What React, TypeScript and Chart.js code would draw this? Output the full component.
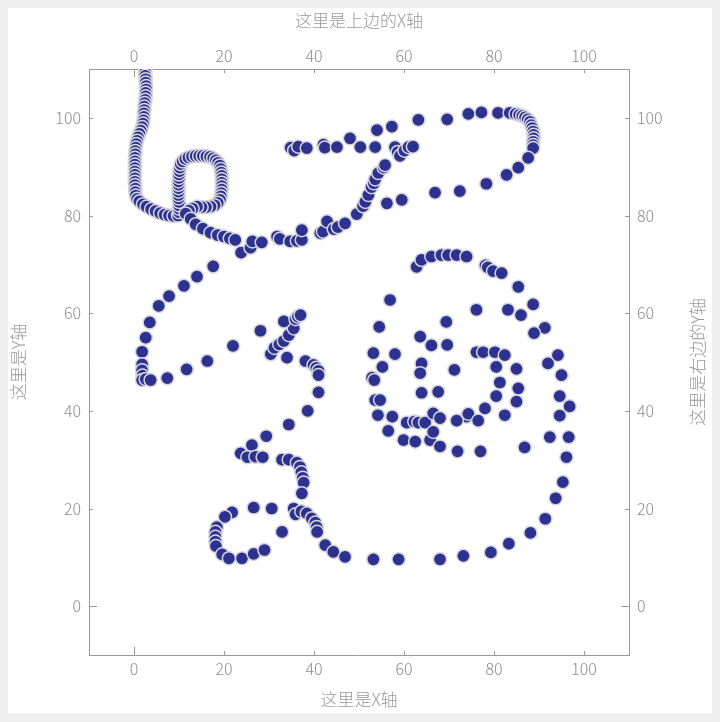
import React, { useEffect, useRef } from "react";
import { Chart, registerables } from "chart.js";

Chart.register(...registerables);

type P = [number, number];

const axisMin = -10;
const axisMax = 110;
const xTicks = [0, 20, 40, 60, 80, 100];
const yTicks = [0, 20, 40, 60, 80, 100];

const topTitle = "这里是上边的X轴";
const bottomTitle = "这里是X轴";
const leftTitle = "这里是Y轴";
const rightTitle = "这里是右边的Y轴";

const strokeVertical: P[] = [
  [2.6, 111.4], [2.6, 110.7], [2.6, 110], [2.5, 109.3], [2.5, 108.6], [2.6, 107.9], [2.6, 107.2], [2.7, 106.5],
  [2.7, 105.8], [2.6, 105.1], [2.6, 104.4], [2.5, 103.7], [2.4, 103], [2.3, 102.3], [2.3, 101.6], [2.2, 100.9],
  [2.2, 100.2], [2.1, 99.5], [2.0, 98.8], [1.8, 98.1], [1.5, 97.4], [1.2, 96.7], [0.9, 96], [0.7, 95.3],
  [0.5, 94.6], [0.4, 93.9], [0.3, 93.2], [0.3, 92.5], [0.2, 91.8], [0.2, 91.1], [0.2, 90.4], [0.2, 89.7],
  [0.2, 89], [0.2, 88.3], [0.2, 87.6], [0.2, 86.9], [0.2, 86.2], [0.3, 85.5], [0.3, 84.8], [0.4, 84.1],
  [0.7, 83.4], [1.2, 82.9], [2, 82.3], [2.8, 81.8], [3.8, 81.3], [4.8, 80.9], [5.8, 80.5], [6.8, 80.2],
  [7.8, 80], [8.8, 79.9], [9.8, 80],
];

const strokeLoop: P[] = [
  [10, 80.7], [10, 81.4], [10, 82.1], [10, 82.8], [9.9, 83.5], [9.9, 84.2], [9.9, 84.9], [9.9, 85.6],
  [9.9, 86.3], [9.9, 87], [10, 87.7], [10, 88.4], [10.1, 89.1], [10.2, 89.8], [10.4, 90.5], [10.8, 91.1],
  [11.4, 91.6], [12.1, 91.9], [12.9, 92.1], [13.7, 92.2], [14.5, 92.2], [15.3, 92.2], [16.1, 92.1], [16.9, 92],
  [17.6, 91.7], [18.2, 91.3], [18.7, 90.8], [19.1, 90.2], [19.3, 89.5], [19.4, 88.8], [19.5, 88.1], [19.5, 87.4],
  [19.5, 86.7], [19.5, 86], [19.5, 85.3], [19.4, 84.6], [19.3, 83.9], [19.1, 83.2], [18.6, 82.6], [17.9, 82.1],
  [17, 81.8], [16, 81.7], [15, 81.7], [14, 81.8], [13, 81.4], [12.2, 81],
];

const strokeDiagonal: P[] = [
  [11.5, 80.4], [12.6, 79.3], [13.7, 78.2], [15.3, 77.3], [17, 76.5], [18.6, 76], [20, 75.7], [21.3, 75.3],
  [22.5, 75], [23.8, 72.4], [25.9, 73.4], [26.3, 74.7], [28.4, 74.5], [31.8, 75.7], [32.4, 75.2], [34.7, 74.7],
  [36.2, 74.8], [37.3, 75], [37.3, 77], [41.4, 76.4], [42, 76.7], [42.9, 78.8], [44.4, 77.2], [45.3, 77.6],
  [46.9, 78.4], [49.5, 80.3], [50.9, 81.9], [51.4, 82.8], [52.1, 84.2], [52.8, 85.8], [53.3, 86.6], [53.6, 87.4],
  [54.3, 88.7], [55.5, 89.8], [55.8, 90.3], [56.2, 82.5], [59.5, 83.2], [66.9, 84.7],
];

const strokeTop: P[] = [
  [34.8, 93.9], [35.6, 93.3], [36.5, 94.1], [38.4, 93.8], [42.1, 94.5], [42.4, 93.9], [45.1, 94], [48, 95.8],
  [50.3, 94], [53.6, 94], [54, 97.5], [57.3, 98.2], [58, 94], [58.6, 93], [59.1, 92.2], [60.1, 93.3],
  [61, 94], [62, 94.1], [63.2, 99.6], [69.6, 99.7], [74.3, 100.8], [77.2, 101.1], [80.9, 101], [83.5, 101],
  [84.8, 100.8], [85.6, 100.6], [86.3, 100.4], [86.9, 100.1], [87.5, 99.7], [88, 99.2], [88.3, 98.5], [88.5, 97.9],
  [88.7, 97.2], [88.8, 96.5], [88.8, 95.8], [88.7, 95.1], [88.7, 94.4], [88.7, 93.8], [87.6, 91.8], [85.4, 89.8],
  [82.8, 88.3], [78.3, 86.5], [72.4, 85],
];

const strokeLeftC: P[] = [
  [17.6, 69.6], [14, 67.5], [11.1, 65.6], [7.8, 63.5], [5.5, 61.5], [3.5, 58.1], [2.6, 55], [1.8, 52.1],
  [1.8, 49.5], [1.8, 48.3], [1.9, 47.2], [1.8, 46.3], [2.6, 46.5], [3.7, 46.3], [7.4, 46.7], [11.7, 48.5],
  [16.3, 50.2], [22, 53.3], [28.1, 56.4],
];

const strokeMiddle: P[] = [
  [30.4, 51.6], [31.2, 52.9], [32.3, 53.6], [33.3, 54.3], [34.4, 55.5], [35.5, 56.9], [33.3, 58.3], [35.9, 58.8],
  [36.4, 59.3], [37, 59.6], [34, 50.9], [38.1, 50.2], [39.9, 49.4], [40.5, 48.8], [41, 48.2], [41, 47.3],
  [41, 43.8], [38.6, 40], [34.4, 37.2], [29.4, 34.8], [26.2, 33], [23.7, 31.3], [25.2, 30.5], [27, 30.6],
  [28.6, 30.5],
];

const strokeSweep: P[] = [
  [32.9, 30], [34.4, 30], [36.2, 29.4], [36.9, 28.5], [37.2, 27.4], [37.5, 26.3], [37.7, 25.3], [37.3, 23.1],
  [35.5, 20], [35.9, 18.8], [37.2, 19.4], [38.4, 19], [39.5, 18], [40.3, 17.1], [40.6, 16.2], [40.7, 15.2],
  [42.5, 12.5], [44.3, 11.1], [46.9, 10.1], [53.2, 9.6], [58.8, 9.6], [68, 9.6], [73.2, 10.3], [79.3, 11],
  [83.3, 12.8], [88.1, 15], [91.4, 17.9], [93.7, 22.1], [95.3, 25.4], [96.1, 30.5],
];

const strokeSmallC: P[] = [
  [32.9, 15.2], [30.6, 20], [26.6, 20.2], [21.8, 19.2], [20.2, 18.3], [18.4, 16.2], [18.1, 15.2], [18.1, 14.2],
  [18.1, 13.2], [18.2, 12.3], [19.6, 10.6], [21.1, 9.8], [24, 9.8], [26.6, 10.7], [29, 11.5],
];

const strokeOuterSpiral: P[] = [
  [62.8, 69.5], [63.9, 70.9], [66.1, 71.6], [68.3, 71.9], [69.8, 71.9], [71.7, 71.9], [73.9, 71.6], [78.1, 69.8],
  [78.6, 69.4], [79.8, 68.6], [81.7, 68.2], [85.4, 65.4], [88.7, 61.8], [91.3, 57], [88.9, 55.9], [94.2, 51.4],
  [92, 49.7], [95, 47.3], [94.6, 43], [96.8, 40.9], [94.6, 39], [92.4, 34.6], [96.6, 34.6],
];

const strokeInnerLeft: P[] = [
  [56.9, 62.7], [54.5, 57.2], [63.6, 55.2], [66.1, 53.4], [69.6, 53.5], [69.4, 58.2], [53.2, 51.8], [58, 51.6],
  [55.2, 49], [63.9, 49.7], [63.6, 47.7], [52.9, 46.8], [53.4, 46.3], [53.6, 42.2], [54.7, 42.2], [63.9, 43.7],
  [67.6, 43.9], [54.2, 39.1], [57.4, 38.8], [60.6, 37.6], [62.3, 37.8], [63.2, 37.6], [64.7, 37.6], [66.5, 39.5],
  [68, 38.5], [56.5, 35.9], [59.9, 34], [62.5, 33.7], [65.8, 34], [66.5, 35.7], [68, 32.7],
];

const strokeInnerRight: P[] = [
  [76.1, 60.7], [83.1, 60.7], [86, 59.6], [71.2, 48.4], [76.1, 52], [77.6, 52], [80.2, 52], [82.4, 51.4],
  [80.5, 49], [85, 48.6], [81.3, 45.8], [85.4, 44.6], [80.5, 43], [85, 41.9], [78, 40.5], [82.4, 39.1],
  [73.9, 38.8], [74.3, 39.4], [71.7, 38], [76.5, 38], [71.9, 31.7], [77, 31.7], [86.8, 32.5],
];

const allStrokes: P[][] = [
  strokeVertical, strokeLoop, strokeDiagonal, strokeTop, strokeLeftC, strokeMiddle,
  strokeSweep, strokeSmallC, strokeOuterSpiral, strokeInnerLeft, strokeInnerRight,
];

const AXIS_COLOR = "#9a9a9a";
const TICK_TEXT = "#8c8c8c";
const TITLE_TEXT = "#999999";
const FONT = "'Noto Sans CJK SC', 'Noto Sans', sans-serif";

const innerTicksPlugin = {
  id: "innerTicks",
  afterDraw(chart: any) {
    const ctx = chart.ctx;
    const a = chart.chartArea;
    const xs = chart.scales.x;
    const ys = chart.scales.y;
    ctx.save();
    ctx.strokeStyle = AXIS_COLOR;
    ctx.lineWidth = 1;
    ctx.beginPath();
    for (const v of xTicks) {
      const px = Math.round(xs.getPixelForValue(v)) + 0.5;
      const len = v === 0 ? 8 : 4;
      ctx.moveTo(px, a.bottom);
      ctx.lineTo(px, a.bottom - len);
      ctx.moveTo(px, a.top);
      ctx.lineTo(px, a.top + len);
    }
    for (const v of yTicks) {
      const py = Math.round(ys.getPixelForValue(v)) + 0.5;
      const len = v === 0 ? 8 : 4;
      ctx.moveTo(a.left, py);
      ctx.lineTo(a.left + len, py);
      ctx.moveTo(a.right, py);
      ctx.lineTo(a.right - len, py);
    }
    ctx.stroke();
    ctx.restore();
  },
};

const rightTitlePlugin = {
  id: "rightTitle",
  afterDraw(chart: any) {
    const ctx = chart.ctx;
    const a = chart.chartArea;
    ctx.save();
    ctx.translate(chart.width - 14, (a.top + a.bottom) / 2);
    ctx.rotate(-Math.PI / 2);
    ctx.textAlign = "center";
    ctx.textBaseline = "middle";
    ctx.font = `300 17px ${FONT}`;
    ctx.fillStyle = TITLE_TEXT;
    ctx.fillText(rightTitle, 0, 0);
    ctx.restore();
  },
};

function App() {
  const canvasRef = useRef<HTMLCanvasElement | null>(null);

  useEffect(() => {
    document.body.style.background = "#f0f0f0";
    const canvas = canvasRef.current;
    if (!canvas) return;

    const points = allStrokes.flat().map(([x, y]) => ({ x, y }));

    const tickFont = { family: FONT, size: 16, weight: 300 as any };
    const titleFont = { family: FONT, size: 17, weight: 300 as any };

    const setTicks = (vals: number[]) => (scale: any) => {
      scale.ticks = vals.map((v) => ({ value: v }));
    };

    const baseScale = (vals: number[], pad: number) => ({
      type: "linear" as const,
      min: axisMin,
      max: axisMax,
      afterBuildTicks: setTicks(vals),
      grid: { display: true, drawOnChartArea: false, drawTicks: false },
      border: { display: true, color: AXIS_COLOR, width: 1 },
      ticks: { color: TICK_TEXT, font: tickFont, padding: pad, autoSkip: false, maxRotation: 0 },
    });

    const chart = new Chart(canvas, {
      type: "scatter",
      data: {
        datasets: [
          {
            data: points,
            backgroundColor: "#2d3190",
            borderColor: "#d6d6dc",
            borderWidth: 1.5,
            pointRadius: 6.6,
            pointHoverRadius: 6.6,
          },
        ],
      },
      options: {
        responsive: false,
        animation: false,
        events: [],
        layout: { padding: 0 },
        plugins: { legend: { display: false }, tooltip: { enabled: false } },
        scales: {
          x: {
            ...baseScale(xTicks, 4),
            position: "bottom",
            afterFit: (s: any) => { s.height = 58; },
            title: { display: true, text: bottomTitle, color: TITLE_TEXT, font: titleFont, padding: { top: 0, bottom: 3 } },
          },
          x2: {
            ...baseScale(xTicks, 3),
            position: "top",
            afterFit: (s: any) => { s.height = 61; },
            title: { display: true, text: topTitle, color: TITLE_TEXT, font: titleFont, padding: { top: 2, bottom: 0 } },
          },
          y: {
            ...baseScale(yTicks, 8),
            position: "left",
            afterFit: (s: any) => { s.width = 81; },
            title: { display: true, text: leftTitle, color: TITLE_TEXT, font: titleFont, padding: { top: 0, bottom: 0 } },
          },
          y2: {
            ...baseScale(yTicks, 8),
            position: "right",
            afterFit: (s: any) => { s.width = 83; },
            title: { display: false },
          },
        },
      } as any,
      plugins: [innerTicksPlugin, rightTitlePlugin],
    });

    return () => chart.destroy();
  }, []);

  return (
    <div style={{ width: 704, height: 705, background: "#ffffff" }}>
      <canvas ref={canvasRef} width={704} height={705} style={{ display: "block" }} />
    </div>
  );
}

export default App;
